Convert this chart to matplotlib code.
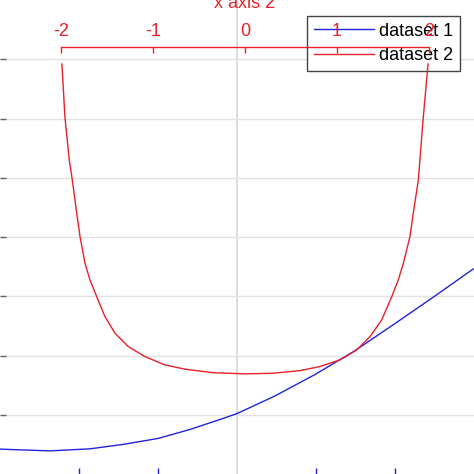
import matplotlib
matplotlib.use("Agg")
import matplotlib.pyplot as plt

plt.rcParams["font.family"] = ["Liberation Sans", "DejaVu Sans"]
plt.rcParams["axes.unicode_minus"] = False

# dataset 1, plotted against the bottom x axis
x1 = [-3.0, -2.37, -1.86, -1.44, -1.0, -0.6, -0.17, 0.0, 0.47, 0.975, 1.48, 1.99, 2.49, 2.99]
y1 = [-3.58, -3.61, -3.575, -3.50, -3.40, -3.25, -3.06, -2.98, -2.69, -2.33, -1.93, -1.47, -1.01, -0.54]

# dataset 2, plotted against the top x axis ("x axis 2")
x2 = [-1.99, -1.957, -1.91, -1.877, -1.829, -1.793, -1.739, -1.685, -1.612, -1.522, -1.413,
      -1.268, -1.087, -0.87, -0.652, -0.35, 0.0, 0.30, 0.598, 0.815, 1.033, 1.214, 1.359,
      1.486, 1.595, 1.666, 1.721, 1.793, 1.829, 1.884, 1.938, 1.99]
y2 = [2.92, 2.02, 1.30, 0.96, 0.40, 0.005, -0.444, -0.725, -1.007, -1.345, -1.624,
      -1.85, -2.019, -2.159, -2.231, -2.29, -2.31, -2.30, -2.255, -2.186, -2.074, -1.906, -1.681,
      -1.40, -1.007, -0.725, -0.444, 0.005, 0.40, 0.961, 2.024, 2.92]

yticks = [-3, -2, -1, 0, 1, 2, 3]
xticks = [-2, -1, 1, 2]
x2ticks = [-2, -1, 0, 1, 2]

RED = "#e8202a"
BLUE = "#2222dd"

fig = plt.figure(figsize=(4.74, 4.74), dpi=100)
ax = fig.add_axes([0, 0, 1, 1])
ax.set_xlim(-3, 3)
ax.set_ylim(-4, 4)
for s in ax.spines.values():
    s.set_visible(False)
ax.set_yticks(yticks)
ax.set_xticks(xticks)
ax.tick_params(axis="y", direction="in", length=4, width=1, color="#666666",
               labelleft=False)
ax.tick_params(axis="x", direction="in", length=4, width=1, color=BLUE,
               labelbottom=False)
ax.yaxis.grid(True, color="#e2e2e2", lw=1)
ax.axvline(0, color="#d9d9d9", lw=1.3, zorder=0.5)

h1, = ax.plot(x1, y1, color=BLUE, lw=1.0)

ax2 = ax.twiny()
ax2.set_xlim(-245 / 92, 229 / 92)
for name, s in ax2.spines.items():
    s.set_visible(name == "top")
top = ax2.spines["top"]
top.set_position(("axes", 1 - 46.5 / 474))
top.set_bounds(-2, 2)
top.set_color(RED)
top.set_linewidth(1.0)
ax2.set_xticks(x2ticks)
ax2.tick_params(axis="x", direction="in", length=4, width=1, color=RED,
                labelcolor=RED, labelsize=13, pad=5)
ax2.set_xlabel("x axis 2", color=RED, fontsize=13)
ax2.xaxis.set_label_coords(245 / 474, 1 - 8.5 / 474)

h2, = ax2.plot(x2, y2, color=RED, lw=1.0)

ax.legend([h1, h2], ["dataset 1", "dataset 2"], loc="upper right",
          bbox_to_anchor=(460 / 474, 1 - 15.7 / 474), bbox_transform=fig.transFigure,
          borderaxespad=0, fancybox=False, edgecolor="#444444", framealpha=1,
          fontsize=13, handlelength=3.3, handletextpad=0.3, borderpad=0.38,
          labelspacing=0.41)

plt.savefig("out.png", dpi=100)
plt.close()
